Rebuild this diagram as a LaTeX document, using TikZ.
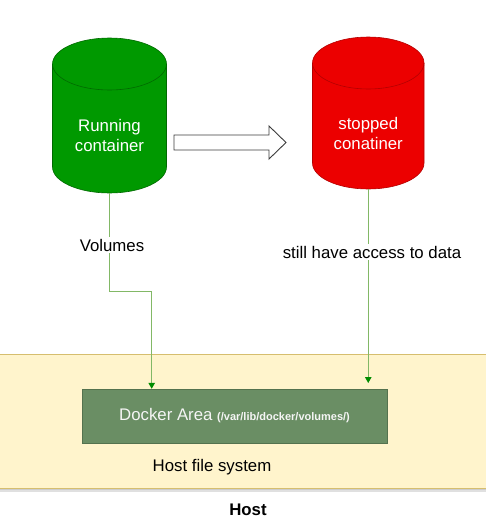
\documentclass[tikz,border=0pt]{standalone}
\usepackage{fontspec}
\setmainfont{Liberation Sans}
\usetikzlibrary{arrows.meta}
\definecolor{runfill}{RGB}{0,153,0}
\definecolor{runline}{RGB}{0,105,0}
\definecolor{stopfill}{RGB}{236,0,0}
\definecolor{stopline}{RGB}{180,0,0}
\definecolor{bandfill}{RGB}{255,244,204}
\definecolor{bandline}{RGB}{214,190,110}
\definecolor{dockfill}{RGB}{106,142,100}
\definecolor{dockline}{RGB}{84,114,78}
\definecolor{connline}{RGB}{130,184,102}
\definecolor{conntip}{RGB}{0,140,0}
\definecolor{arrline}{RGB}{60,60,60}
\definecolor{doctxt}{RGB}{245,245,245}
\begin{document}
\begin{tikzpicture}[x=1pt,y=-1pt,
  txt/.style={font=\fontsize{16.8}{20}\selectfont, align=center, inner sep=1pt},
  conn/.style={draw=connline, line width=1pt, -{Triangle[length=6pt,width=6.5pt,color=conntip,fill=conntip]}},
  lbl/.style={txt, fill=white, inner sep=2pt},
  bound/.style={inner sep=0pt, minimum width=114pt}]
\useasboundingbox (0,0) rectangle (486,520);

% host band with shadow
\fill[black!12] (-5,357) rectangle (491,492);
\fill[black!20] (-5,357) rectangle (491,490);
\draw[fill=bandfill, draw=bandline, line width=1pt] (-5,354) rectangle (491,488);

% running container cylinder
\fill[runfill] (52.5,64) -- (52.5,167) arc[start angle=180,end angle=360,x radius=57pt,y radius=26pt] -- (166.5,64) arc[start angle=0,end angle=180,x radius=57pt,y radius=26pt] -- cycle;
\draw[runline, line width=0.6pt] (52.5,64) -- (52.5,167) arc[start angle=180,end angle=360,x radius=57pt,y radius=26pt] -- (166.5,64) arc[start angle=0,end angle=180,x radius=57pt,y radius=26pt] -- cycle;
\draw[runline, line width=0.6pt] (52.5,64) arc[start angle=180,end angle=360,x radius=57pt,y radius=26pt];
\node[bound, minimum height=155pt] (run) at (109.5,115.5) {};
\node[txt, text=white] (runtxt) at (109.5,135) {Running\\container};

% stopped container cylinder
\fill[stopfill] (312.5,63) -- (312.5,163) arc[start angle=180,end angle=360,x radius=55.75pt,y radius=26pt] -- (424,63) arc[start angle=0,end angle=180,x radius=55.75pt,y radius=26pt] -- cycle;
\draw[stopline, line width=0.6pt] (312.5,63) -- (312.5,163) arc[start angle=180,end angle=360,x radius=55.75pt,y radius=26pt] -- (424,63) arc[start angle=0,end angle=180,x radius=55.75pt,y radius=26pt] -- cycle;
\draw[stopline, line width=0.6pt] (312.5,63) arc[start angle=180,end angle=360,x radius=55.75pt,y radius=26pt];
\node[bound, minimum height=152pt] (stop) at (368.25,113) {};
\node[txt, text=white] (stoptxt) at (368.25,133) {stopped\\conatiner};

% block arrow
\draw[draw=arrline, fill=white, line width=0.9pt, line join=miter]
  (174,135) -- (269,135) -- (269,126) -- (286,142.5) -- (269,159) -- (269,150) -- (174,150) -- cycle;

% docker area
\node[draw=dockline, fill=dockfill, minimum width=305pt, minimum height=54pt, inner sep=0pt,
  text=doctxt, font=\fontsize{16.8}{20}\selectfont] (dock) at (234.5,416)
  {Docker Area {\bfseries\fontsize{11}{13}\selectfont (/var/lib/docker/volumes/)}};

% connectors
\coordinate (vbend) at (151.7,291);
\draw[conn] (run.south) |- (vbend) -- (vbend |- dock.north);
\node[lbl] (vol) at (112,245) {Volumes};

\coordinate (acc) at (368.25,383);
\draw[conn] (stop.south) -- (acc);
\node[lbl] (acclbl) at (372,252) {still have access to data};

% labels
\node[txt] (hfs) at (212,467) {Host file system};
\node[txt, font=\bfseries\fontsize{16.8}{20}\selectfont] (host) at (248,510) {Host};
\end{tikzpicture}
\end{document}
